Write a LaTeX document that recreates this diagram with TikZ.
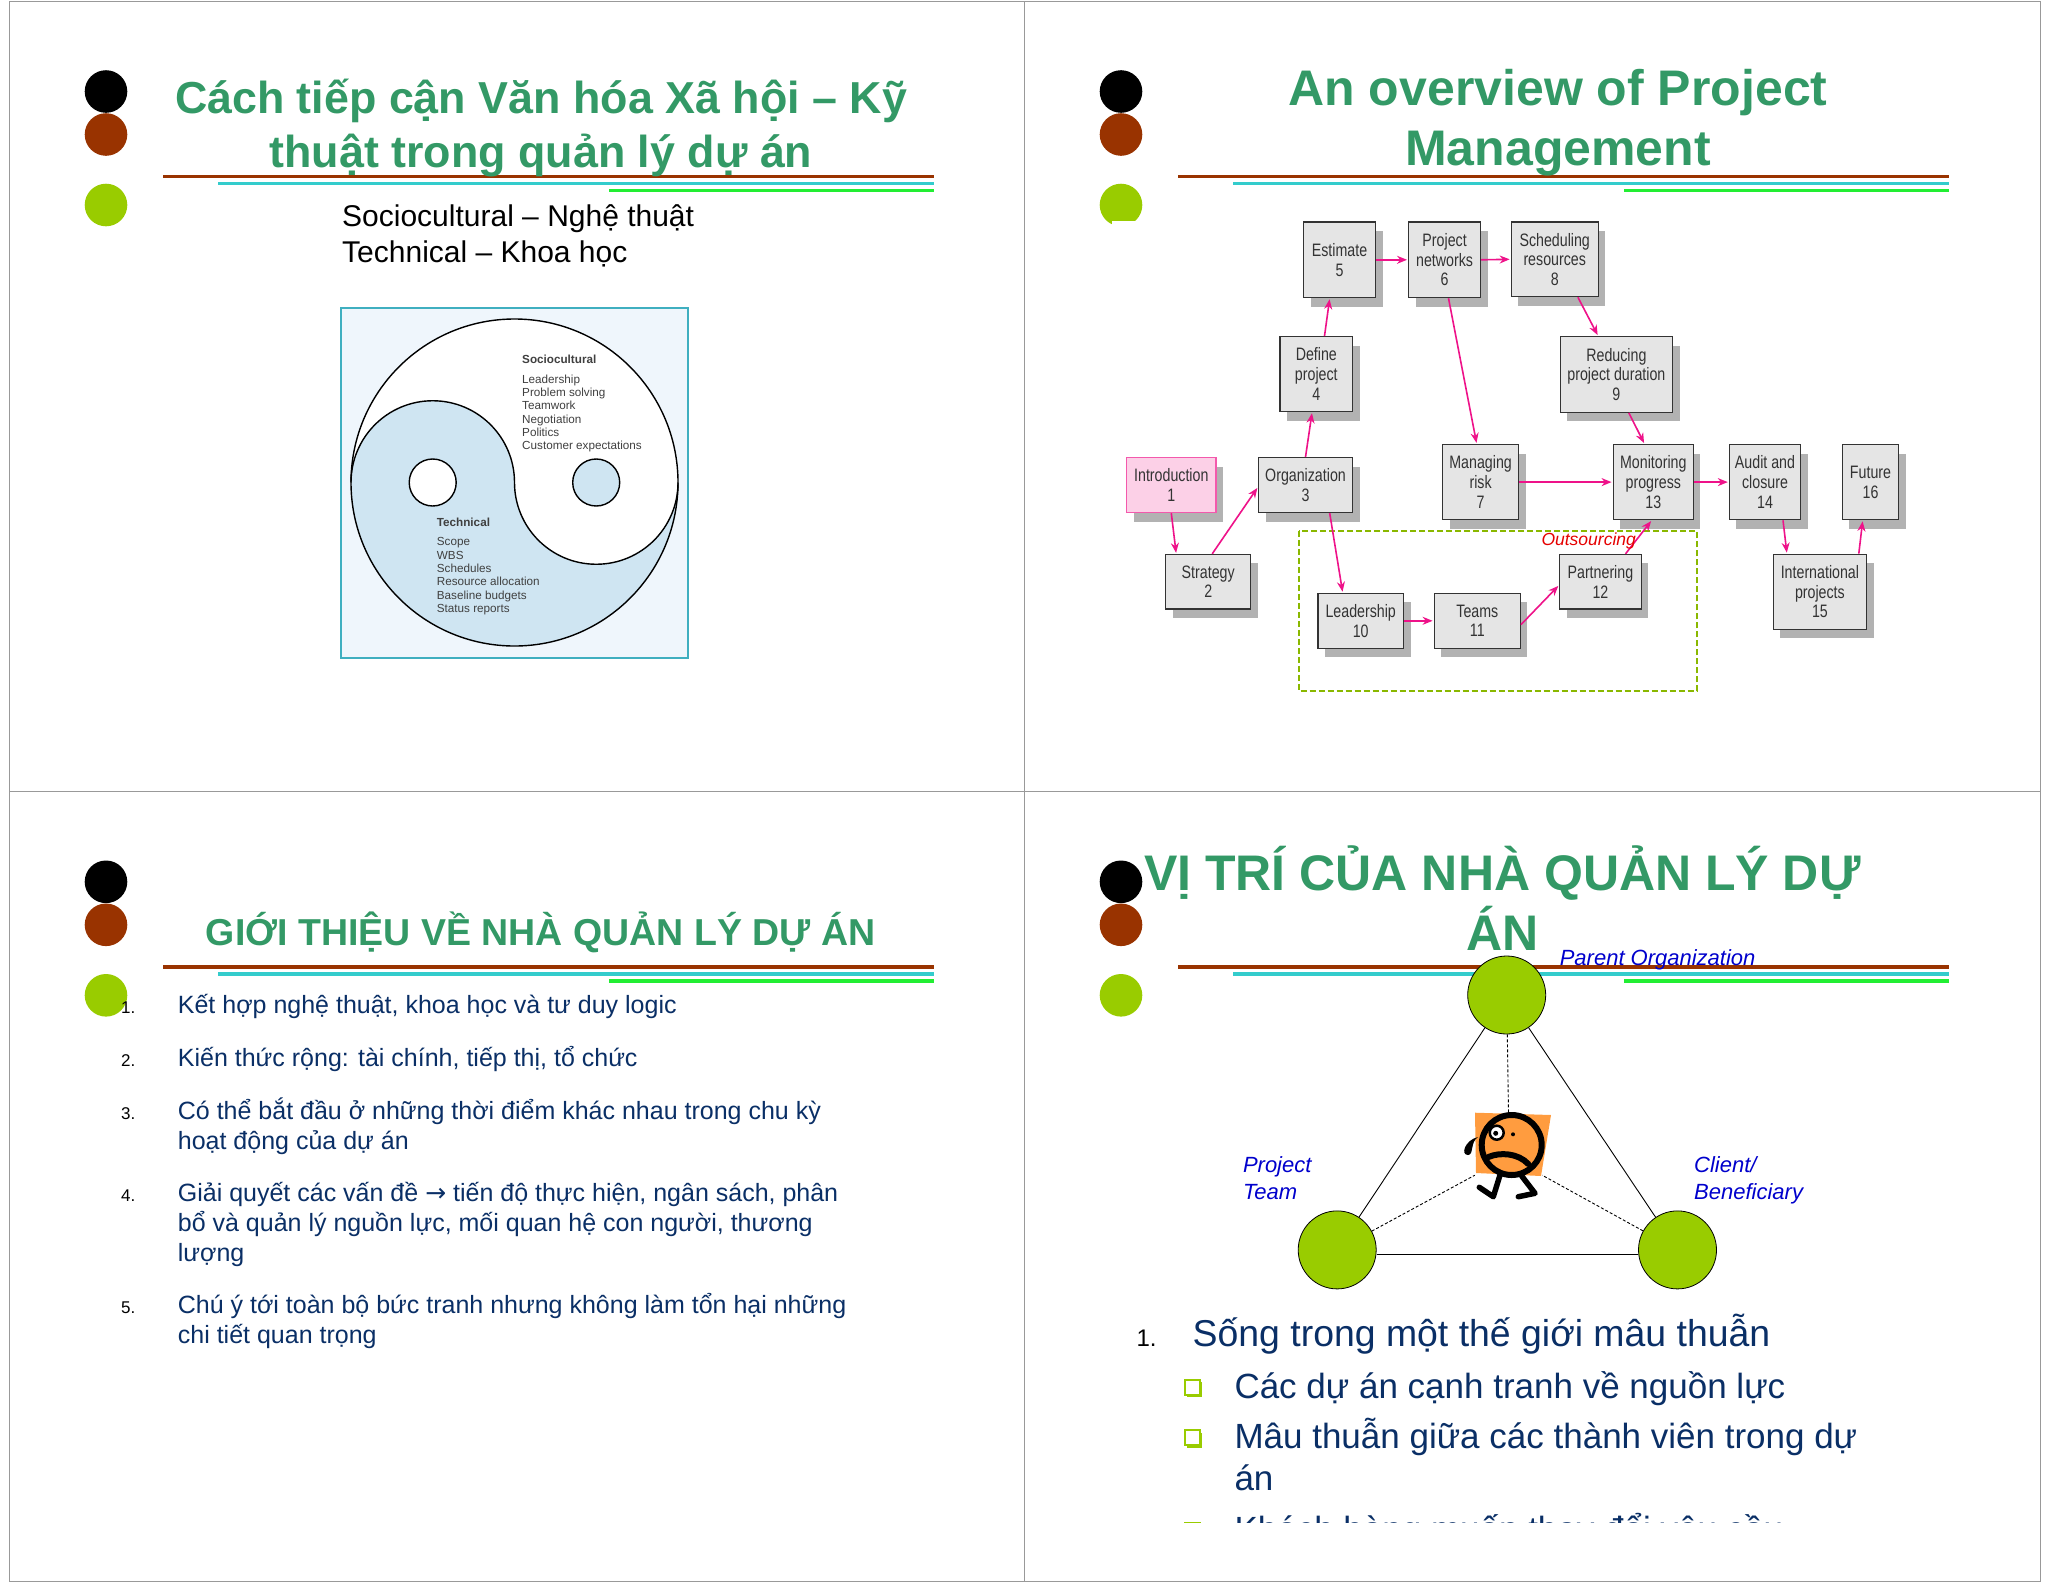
\documentclass[tikz,border=0pt]{standalone}
\usepackage{fontspec}
\setmainfont{Liberation Sans}
\newfontfamily\boxfont[FakeStretch=0.79]{Liberation Sans}
\newfontfamily\arrowfont{DejaVu Sans}
\usetikzlibrary{arrows.meta,shadows}
\definecolor{titlegreen}{HTML}{339966}
\definecolor{dotbrown}{HTML}{993300}
\definecolor{dotgreen}{HTML}{99CC00}
\definecolor{rulecyan}{HTML}{33CCCC}
\definecolor{rulegreen}{HTML}{22EE33}
\definecolor{navytext}{HTML}{0A2F66}
\definecolor{arrowpink}{HTML}{EE1289}
\definecolor{yinblue}{HTML}{CFE5F2}
\definecolor{yinback}{HTML}{EFF6FC}
\definecolor{yinframe}{HTML}{3FAFC0}
\definecolor{manorange}{HTML}{FF9C3F}
\tikzset{
  titleline/.style={inner sep=0pt,anchor=base,text=titlegreen,font=\fontsize{#1}{#1}\selectfont\bfseries},
  bodyline/.style={inner sep=0pt,anchor=base west,text=navytext,font=\fontsize{#1}{#1}\selectfont},
  numline/.style={inner sep=0pt,anchor=base west,font=\fontsize{#1}{#1}\selectfont},
  yinline/.style={inner sep=0pt,anchor=base west,text=black!75,font=\fontsize{11.7}{12}\selectfont},
  rolelabel/.style={inner sep=0pt,anchor=base west,text=blue!80!black,font=\fontsize{22}{22}\selectfont\itshape},
  topicbox/.style={draw=black!80,line width=1.2pt,fill=black!10,inner sep=0pt,align=center,
    text=black!80,font=\boxfont\fontsize{18}{19.7}\selectfont,
    drop shadow={shadow xshift=7pt,shadow yshift=-9pt,fill=black!30,opacity=1}},
  topicarrow/.style={draw=arrowpink,line width=1.6pt,-{Stealth[length=10pt,width=8pt]},shorten >=1pt},
  rolecircle/.style={circle,draw=black,line width=.8pt,fill=dotgreen,minimum size=78pt,inner sep=0pt},
  roleline/.style={line width=.9pt},
  checkbox/.style={draw=dotgreen,line width=2pt,fill=white,minimum size=15pt,inner sep=0pt,
    drop shadow={shadow xshift=2.5pt,shadow yshift=-2.5pt,fill=dotgreen,opacity=1}},
}
\begin{document}
\begin{tikzpicture}[x=1pt,y=-1pt]
\useasboundingbox (0,0) rectangle (2048,1582);
\draw[black!40,line width=1pt] (9,1) rectangle (2040,1581);
\draw[black!40,line width=1pt] (1024.5,1) -- (1024.5,1581);
\draw[black!40,line width=1pt] (9,791) -- (2040,791);
% dots and rules of the four slides
\foreach \dx/\dy in {0/0,1015/0,0/790.3,1015/790.3} {
  \fill[black] (106+\dx,91.5+\dy) circle[radius=21.3pt];
  \fill[dotbrown] (106+\dx,134.5+\dy) circle[radius=21.3pt];
  \fill[dotgreen] (106+\dx,205+\dy) circle[radius=21.3pt];
  \fill[dotbrown] (163+\dx,175+\dy) rectangle (934+\dx,178.2+\dy);
  \fill[rulecyan] (218+\dx,182+\dy) rectangle (934+\dx,185.2+\dy);
  \fill[rulegreen] (609+\dx,189+\dy) rectangle (934+\dx,192.2+\dy);
}
% slide 1
\node[titleline=44.8] (ttla) at (541,113.5) {Cách tiếp cận Văn hóa Xã hội – Kỹ};
\node[titleline=44.8] (ttlb) at (541,167.5) {thuật trong quản lý dự án};
\node[numline=30] (soca) at (342,226) {Sociocultural – Nghệ thuật};
\node[numline=30] (socb) at (342,262) {Technical – Khoa học};
\draw[yinframe,fill=yinback,line width=1.5pt] (341,308) rectangle (688,658);
\fill[white] (514.5,482.5) circle[radius=163.5pt];
\fill[yinblue] (351,482.5) arc[start angle=180,end angle=0,radius=81.75pt]
  arc[start angle=180,end angle=360,radius=81.75pt]
  arc[start angle=0,end angle=-180,radius=163.5pt] -- cycle;
\draw[line width=1.4pt] (351,482.5) arc[start angle=180,end angle=0,radius=81.75pt]
  arc[start angle=180,end angle=360,radius=81.75pt];
\draw[line width=1.4pt] (514.5,482.5) circle[radius=163.5pt];
\draw[line width=1.4pt,fill=white] (432.7,482.5) circle[radius=23.5pt];
\draw[line width=1.4pt,fill=yinblue] (596.2,482.5) circle[radius=23.5pt];
\node[yinline,font=\fontsize{11.7}{12}\selectfont\bfseries] (socttl) at (522,363) {Sociocultural};
\node[yinline] (soc1) at (522,383) {Leadership};
\node[yinline] (soc2) at (522,396.3) {Problem solving};
\node[yinline] (soc3) at (522,409.7) {Teamwork};
\node[yinline] (soc4) at (522,423) {Negotiation};
\node[yinline] (soc5) at (522,436.3) {Politics};
\node[yinline] (soc6) at (522,449.7) {Customer expectations};
\node[yinline,font=\fontsize{11.7}{12}\selectfont\bfseries] (tecttl) at (436.7,526) {Technical};
\node[yinline] (tec1) at (436.7,545.7) {Scope};
\node[yinline] (tec2) at (436.7,559) {WBS};
\node[yinline] (tec3) at (436.7,572.3) {Schedules};
\node[yinline] (tec4) at (436.7,585.7) {Resource allocation};
\node[yinline] (tec5) at (436.7,599) {Baseline budgets};
\node[yinline] (tec6) at (436.7,612.3) {Status reports};
% slide 2
\fill[white] (1112,221) rectangle (1145,232);
\node[titleline=50] (ovra) at (1558,105) {An overview of Project};
\node[titleline=50] (ovrb) at (1558,165) {Management};
\draw[dotgreen!90!black,line width=1.6pt,dash pattern=on 6pt off 3pt] (1299,530.8) rectangle (1696.7,691.2);
\node[topicbox,minimum width=89.5pt,minimum height=55pt,draw=arrowpink!70,fill=arrowpink!20] (intro) at (1171.3,485.1) {Introduction\\1};
\node[topicbox,minimum width=84.9pt,minimum height=54.5pt] (strategy) at (1208.2,581.7) {Strategy\\2};
\node[topicbox,minimum width=94pt,minimum height=55pt] (org) at (1305.5,485.1) {Organization\\3};
\node[topicbox,minimum width=72.5pt,minimum height=75pt] (define) at (1316.3,374.1) {Define\\project\\4};
\node[topicbox,minimum width=72pt,minimum height=75.7pt] (estimate) at (1339.5,259.8) {Estimate\\5};
\node[topicbox,minimum width=72pt,minimum height=75.7pt] (networks) at (1444.6,259.8) {Project\\networks\\6};
\node[topicbox,minimum width=86.9pt,minimum height=74.7pt] (sched) at (1554.7,259.3) {Scheduling\\resources\\8};
\node[topicbox,minimum width=112.3pt,minimum height=75.7pt] (reduce) at (1616.4,374.4) {Reducing\\project duration\\9};
\node[topicbox,minimum width=75.8pt,minimum height=75.2pt] (risk) at (1480.6,482.1) {Managing\\risk\\7};
\node[topicbox,minimum width=80.3pt,minimum height=75.2pt] (monitor) at (1653.3,482.1) {Monitoring\\progress\\13};
\node[topicbox,minimum width=71.2pt,minimum height=75.2pt] (audit) at (1765,482.1) {Audit and\\closure\\14};
\node[topicbox,minimum width=56.2pt,minimum height=75.2pt] (future) at (1870.5,482.1) {Future\\16};
\node[topicbox,minimum width=93.4pt,minimum height=75.2pt] (intl) at (1819.9,591.8) {International\\projects\\15};
\node[topicbox,minimum width=81.6pt,minimum height=54.5pt] (partner) at (1600.4,581.7) {Partnering\\12};
\node[topicbox,minimum width=85.6pt,minimum height=55pt] (leader) at (1360.7,620.8) {Leadership\\10};
\node[topicbox,minimum width=86.2pt,minimum height=55pt] (teams) at (1477.3,620.8) {Teams\\11};
\draw[topicarrow] (intro.south) -- ([xshift=-32pt]strategy.north);
\draw[topicarrow] ([xshift=4pt]strategy.north) -- ([yshift=-2pt]org.west);
\draw[topicarrow] (org.north) -- ([xshift=-4.2pt]define.south);
\draw[topicarrow] ([xshift=8.2pt]define.north) -- ([xshift=-9.8pt]estimate.south);
\draw[topicarrow] (estimate.east) -- (networks.west);
\draw[topicarrow] (networks.east) -- (sched.west);
\draw[topicarrow] ([xshift=3.9pt]networks.south) -- ([xshift=-3.9pt]risk.north);
\draw[topicarrow] ([xshift=23.2pt]sched.south) -- ([xshift=-18.3pt]reduce.north);
\draw[topicarrow] ([xshift=12.4pt]reduce.south) -- ([xshift=-8.8pt]monitor.north);
\draw[topicarrow] (risk.east) -- (monitor.west);
\draw[topicarrow] (monitor.east) -- (audit.west);
\draw[topicarrow] ([xshift=18pt]audit.south) -- ([xshift=-33pt]intl.north);
\draw[topicarrow] ([xshift=38.9pt]intl.north) -- ([xshift=-7.8pt]future.south);
\draw[topicarrow] ([xshift=24.2pt]org.south) -- ([xshift=-18pt]leader.north);
\draw[topicarrow] (leader.east) -- (teams.west);
\draw[topicarrow] ([yshift=-3.8pt]teams.east) -- ([yshift=-3.5pt]partner.west);
\draw[topicarrow] ([xshift=25.1pt]partner.north) -- ([xshift=-1.6pt]monitor.south);
\node[inner sep=0pt,anchor=base west,text=red!90!black,font=\fontsize{17.5}{18}\selectfont\itshape] (outs) at (1541.3,545) {Outsourcing};
% slide 3
\node[titleline=37.5] (intra) at (540.6,945) {GIỚI THIỆU VỀ NHÀ QUẢN LÝ DỰ ÁN};
\node[numline=17] (na) at (121,1013.5) {1.};
\node[numline=17] (nb) at (121,1066) {2.};
\node[numline=17] (nc) at (121,1119) {3.};
\node[numline=17] (nd) at (121,1201) {4.};
\node[numline=17] (ne) at (121,1313) {5.};
\node[bodyline=25] (la) at (177.7,1013.5) {Kết hợp nghệ thuật, khoa học và tư duy logic};
\node[bodyline=25] (lb) at (177.7,1066) {Kiến thức rộng: tài chính, tiếp thị, tổ chức};
\node[bodyline=25] (lc) at (177.7,1119) {Có thể bắt đầu ở những thời điểm khác nhau trong chu kỳ};
\node[bodyline=25] (lcc) at (177.7,1149) {hoạt động của dự án};
\node[bodyline=25] (ld) at (177.7,1201) {Giải quyết các vấn đề {\arrowfont →} tiến độ thực hiện, ngân sách, phân};
\node[bodyline=25] (ldd) at (177.7,1231) {bổ và quản lý nguồn lực, mối quan hệ con người, thương};
\node[bodyline=25] (lddd) at (177.7,1261) {lượng};
\node[bodyline=25] (le) at (177.7,1313) {Chú ý tới toàn bộ bức tranh nhưng không làm tổn hại những};
\node[bodyline=25] (lee) at (177.7,1343.5) {chi tiết quan trọng};
% slide 4
\node[titleline=50] (posa) at (1502.4,890.4) {VỊ TRÍ CỦA NHÀ QUẢN LÝ DỰ};
\node[titleline=50] (posb) at (1502.4,950) {ÁN};
\node[rolecircle] (parent) at (1506.7,995) {};
\node[rolecircle] (team) at (1337.2,1249.9) {};
\node[rolecircle] (client) at (1677.5,1249.9) {};
\node[minimum width=67pt,minimum height=62pt,inner sep=0pt] (manager) at (1508.5,1144) {};
\draw[roleline] (parent) -- (team);
\draw[roleline] (parent) -- (client);
\draw[roleline] ([yshift=-5pt]team.east) -- ([yshift=-5pt]client.west);
\draw[roleline,densely dashed] (parent) -- (manager.north);
\draw[roleline,densely dashed] (team) -- (manager.south west);
\draw[roleline,densely dashed] (client) -- (manager.south east);
% little man
\fill[manorange] (1475,1112.7) -- (1551,1115) -- (1541,1176) -- (1476,1173) -- cycle;
\draw[line width=5.5pt,line join=round,line cap=round] (1500,1175) -- (1493.3,1196.7) -- (1479.3,1187.3);
\draw[line width=5.5pt,line join=round,line cap=round] (1521.7,1176) -- (1535,1193.3) -- (1518.3,1196.7);
\draw[line width=6pt,fill=manorange] (1511.7,1145) circle[radius=30pt];
\draw[line width=2.5pt,fill=white] (1496.7,1132.7) circle[radius=7pt];
\fill (1495.7,1133.3) circle[radius=2.5pt];
\fill (1513,1134.3) circle[radius=2pt];
\draw[line width=6pt,line cap=round] (1488.3,1157) .. controls (1500,1152) and (1518,1153) .. (1528.3,1164);
\fill (1478,1137) .. controls (1465,1140) and (1460,1155) .. (1468,1155) .. controls (1474,1155) and (1470,1142) .. cycle;
\node[rolelabel] (parlab) at (1559.6,965) {Parent Organization};
\node[rolelabel] (teama) at (1242.8,1172) {Project};
\node[rolelabel] (teamb) at (1242.8,1199.7) {Team};
\node[rolelabel] (clia) at (1694,1172) {Client/};
\node[rolelabel] (clib) at (1694,1199.7) {Beneficiary};
\node[numline=24] (nf) at (1136.3,1346) {1.};
\node[bodyline=37.4] (lf) at (1192.5,1346) {Sống trong một thế giới mâu thuẫn};
\begin{scope}
\clip (1100,1300) rectangle (2000,1522.6);
\node[checkbox] (boxa) at (1192,1387) {};
\node[checkbox] (boxb) at (1192,1437.5) {};
\node[checkbox] (boxc) at (1192,1530) {};
\node[bodyline=35] (lg) at (1234.3,1398) {Các dự án cạnh tranh về nguồn lực};
\node[bodyline=35] (lh) at (1234.3,1448.4) {Mâu thuẫn giữa các thành viên trong dự};
\node[bodyline=35] (lhh) at (1234.3,1490.8) {án};
\node[bodyline=35] (li) at (1234.3,1541) {Khách hàng muốn thay đổi yêu cầu};
\end{scope}
\end{tikzpicture}
\end{document}
